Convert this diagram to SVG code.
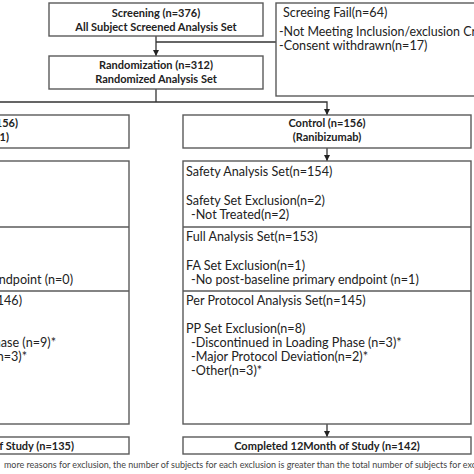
<svg xmlns="http://www.w3.org/2000/svg" width="474" height="474" viewBox="0 0 474 474">
<style>
.box{fill:#fff;stroke:#5a5a5a;stroke-width:1.4}
.sep{stroke:#5a5a5a;stroke-width:1.4}
.t{font-family:Lato,"Liberation Sans",Arial,sans-serif;font-size:12.6px;fill:#222}
.b{font-family:Lato,"Liberation Sans",Arial,sans-serif;font-size:11px;font-weight:bold;fill:#222;text-anchor:middle}
.e{text-anchor:end}
.c{fill:none;stroke:#333;stroke-width:1.3}
.fn{font-family:Lato,"Liberation Sans",Arial,sans-serif;font-size:9px;fill:#444}
</style>
<defs>
<marker id="ah" markerUnits="userSpaceOnUse" markerWidth="7" markerHeight="7" refX="6" refY="3" orient="auto">
<path d="M0,0 L6,3 L0,6 z" fill="#222"/>
</marker>
</defs>
<rect x="0" y="0" width="474" height="474" fill="#fff"/>
<g id="connectors">
<path class="c" d="M156,36 V56" marker-end="url(#ah)"/>
<path class="c" d="M156,42 H276"/>
<path class="c" d="M156,89 V102"/>
<path class="c" d="M-15,102 H327 V115" marker-end="url(#ah)"/>
<path class="c" d="M327,148 V161" marker-end="url(#ah)"/>
<path class="c" d="M327,424 V437" marker-end="url(#ah)"/>
</g>
<g id="screening">
<rect class="box" x="49" y="3" width="214" height="33"/>
<text class="b" x="156" y="17">Screening (n=376)</text>
<text class="b" x="156" y="31">All Subject Screened Analysis Set</text>
</g>
<g id="screening-fail">
<rect class="box" x="276" y="3" width="210" height="93"/>
<text class="t" x="283" y="17">Screeing Fail(n=64)</text>
<text class="t" x="279" y="36" textLength="197" lengthAdjust="spacingAndGlyphs">-Not Meeting Inclusion/exclusion Cr</text>
<text class="t" x="279" y="50">-Consent withdrawn(n=17)</text>
</g>
<g id="randomization">
<rect class="box" x="49" y="56" width="214" height="33"/>
<text class="b" x="156" y="69">Randomization (n=312)</text>
<text class="b" x="156" y="83">Randomized Analysis Set</text>
</g>
<g id="test">
<rect class="box" x="-159" y="115" width="288" height="33"/>
<text class="b e" x="18" y="127">(n=156)</text>
<text class="b e" x="9" y="141">1)</text>
</g>
<g id="control">
<rect class="box" x="183" y="115" width="288" height="33"/>
<text class="b" x="327" y="127">Control (n=156)</text>
<text class="b" x="327" y="141">(Ranibizumab)</text>
</g>
<g id="test-sets">
<rect class="box" x="-159" y="161" width="288" height="263"/>
<line class="sep" x1="-159" y1="227" x2="129" y2="227"/>
<line class="sep" x1="-159" y1="291" x2="129" y2="291"/>
<text class="t e" x="73" y="284">endpoint (n=0)</text>
<text class="t e" x="22" y="305">(n=146)</text>
<text class="t e" x="56" y="347">Phase (n=9)*</text>
<text class="t e" x="27" y="361">(n=3)*</text>
</g>
<g id="control-sets">
<rect class="box" x="183" y="161" width="288" height="263"/>
<line class="sep" x1="183" y1="227" x2="471" y2="227"/>
<line class="sep" x1="183" y1="291" x2="471" y2="291"/>
<text class="t" x="186" y="176">Safety Analysis Set(n=154)</text>
<text class="t" x="186" y="205">Safety Set Exclusion(n=2)</text>
<text class="t" x="191" y="219">-Not Treated(n=2)</text>
<text class="t" x="186" y="241">Full Analysis Set(n=153)</text>
<text class="t" x="186" y="270">FA Set Exclusion(n=1)</text>
<text class="t" x="191" y="284">-No post-baseline primary endpoint (n=1)</text>
<text class="t" x="186" y="305">Per Protocol Analysis Set(n=145)</text>
<text class="t" x="186" y="333">PP Set Exclusion(n=8)</text>
<text class="t" x="191" y="347">-Discontinued in Loading Phase (n=3)*</text>
<text class="t" x="191" y="361">-Major Protocol Deviation(n=2)*</text>
<text class="t" x="191" y="375">-Other(n=3)*</text>
</g>
<g id="test-completed">
<rect class="box" x="-159" y="437" width="288" height="17"/>
<text class="b e" x="74" y="450">of Study (n=135)</text>
</g>
<g id="control-completed">
<rect class="box" x="183" y="437" width="288" height="17"/>
<text class="b" x="327" y="450">Completed 12Month of Study (n=142)</text>
</g>
<g id="footnote">
<text class="fn" x="4" y="468" textLength="472" lengthAdjust="spacingAndGlyphs">more reasons for exclusion, the number of subjects for each exclusion is greater than the total number of subjects for exc</text>
</g>
</svg>
